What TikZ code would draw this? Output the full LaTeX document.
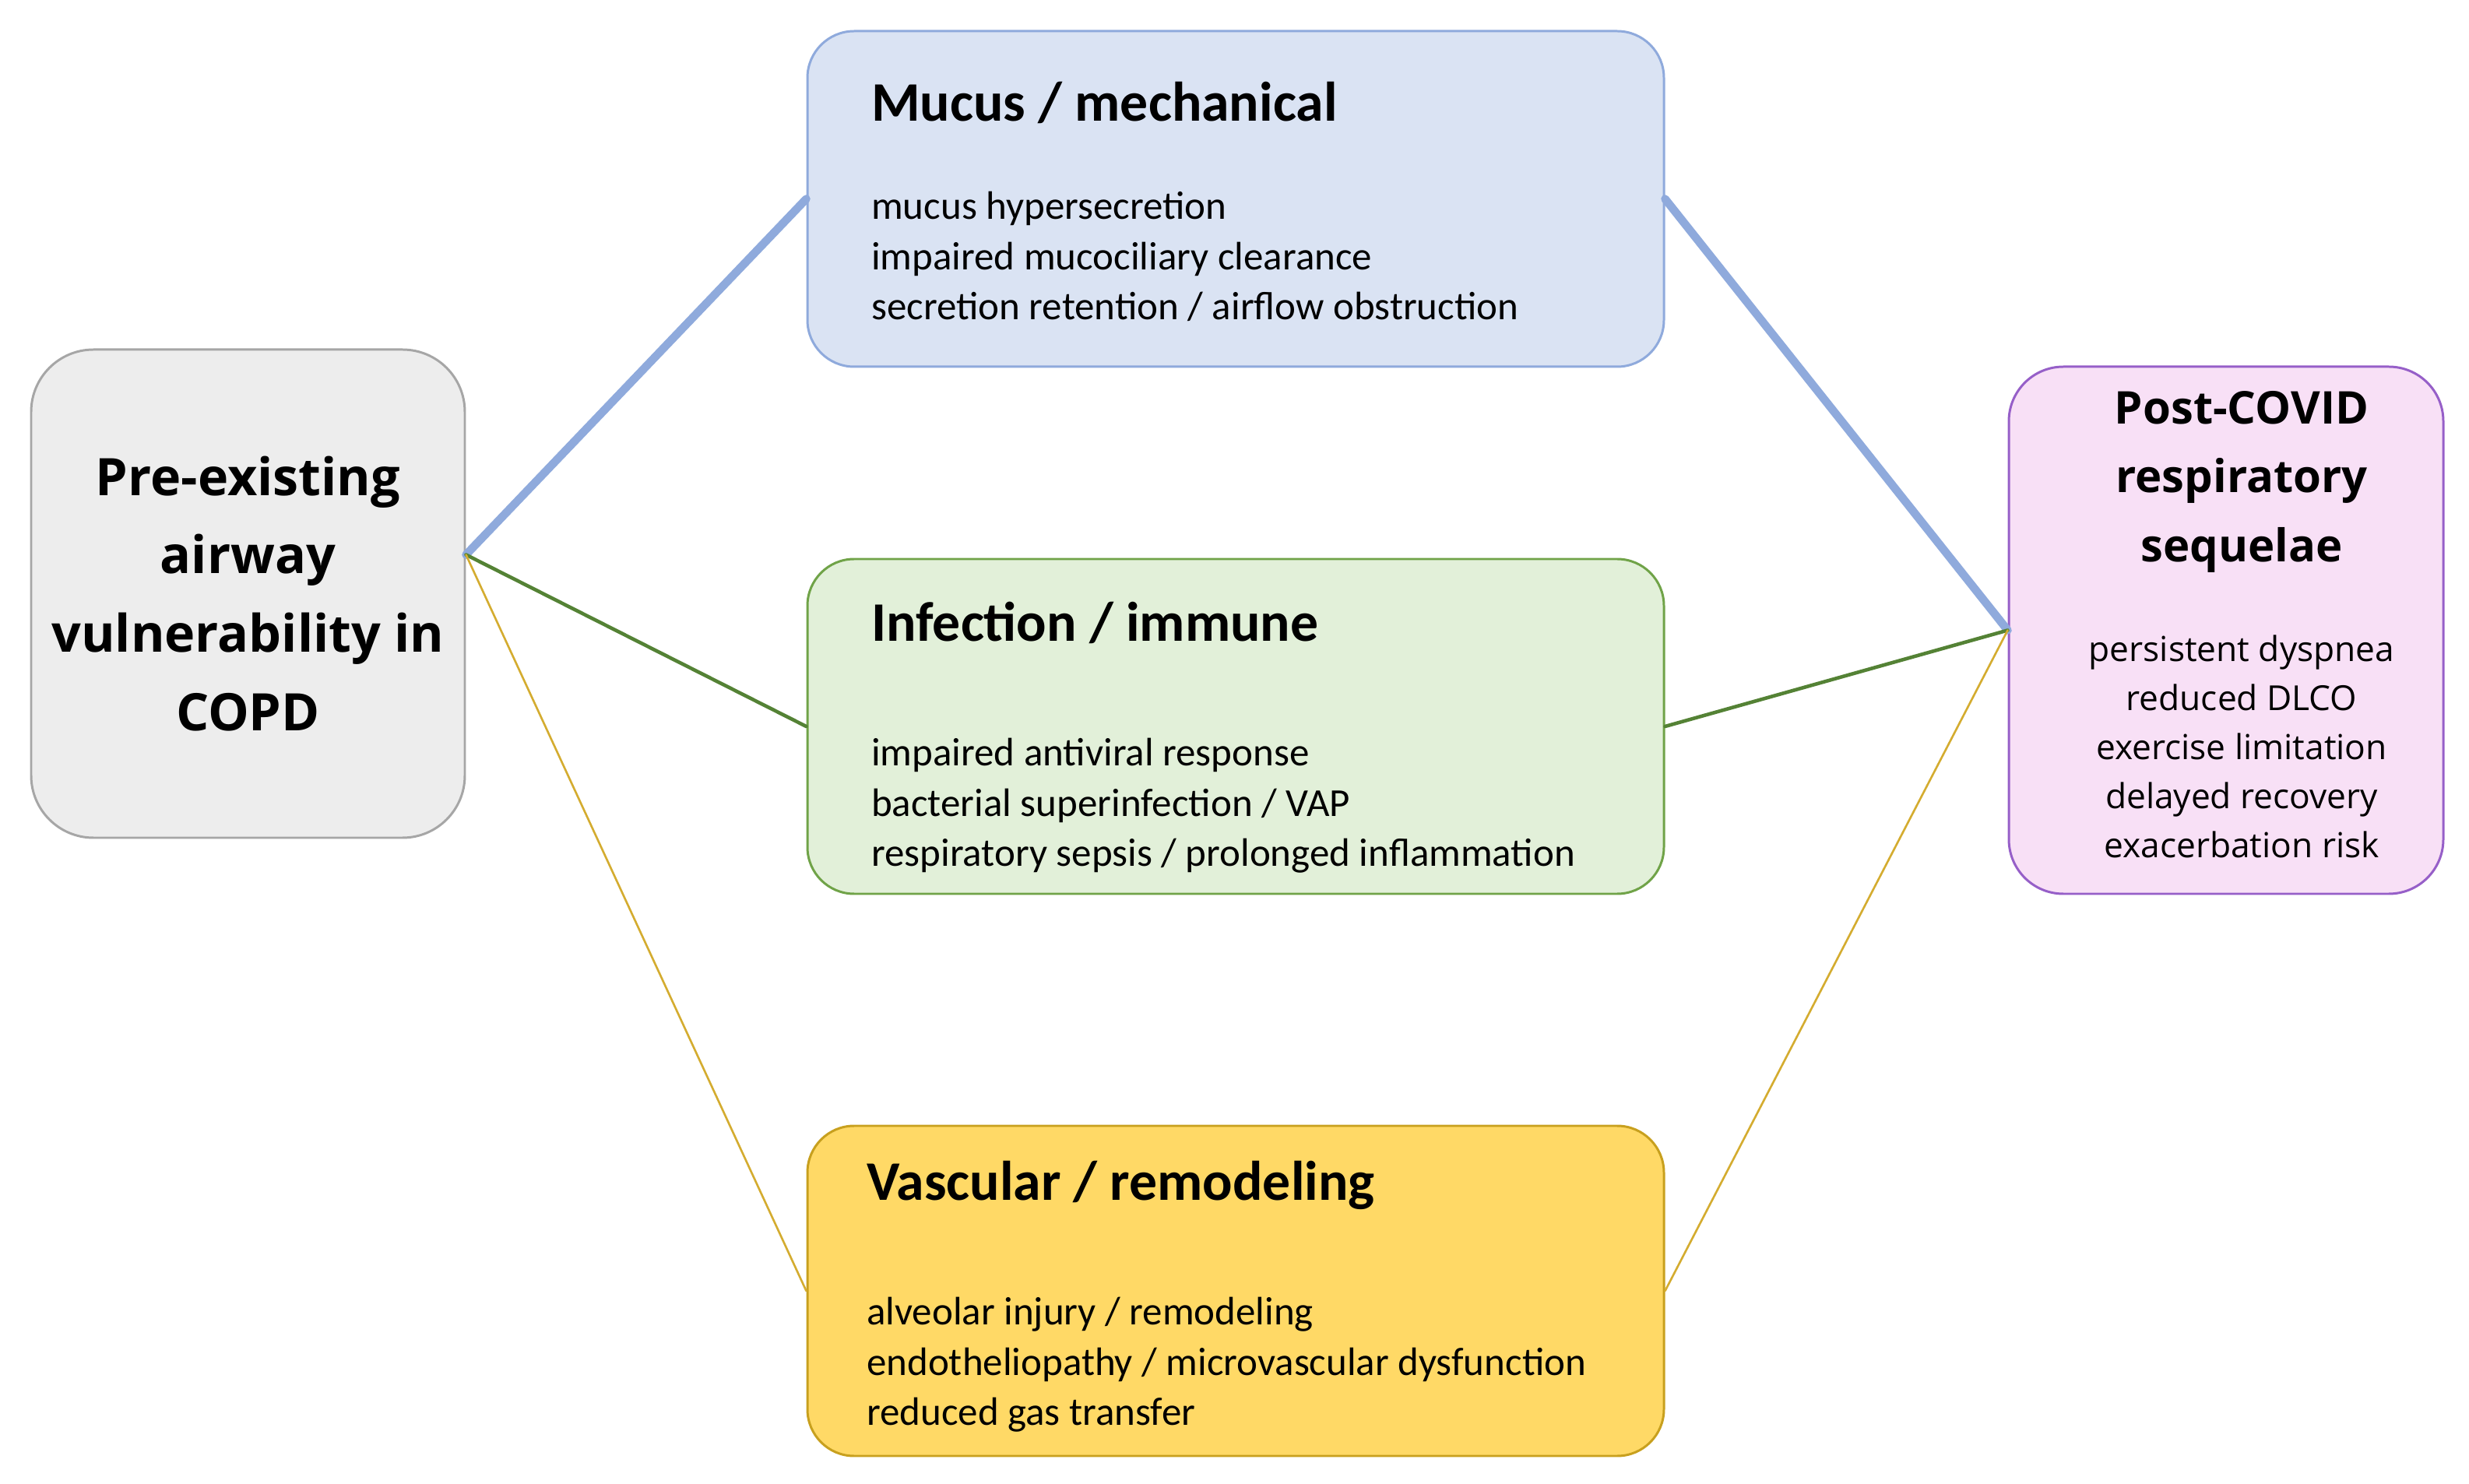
\documentclass[tikz,border=0pt]{standalone}
\usepackage{fontspec}
\setmainfont{Carlito}
\newfontfamily\headfont{Open Sans}
\usetikzlibrary{positioning,calc}
\definecolor{copdGray}{RGB}{237, 237, 237}
\definecolor{copdGrayLine}{RGB}{166, 166, 166}
\definecolor{copdLightBlue}{RGB}{218, 227, 243}
\definecolor{copdBlue}{RGB}{143, 170, 220}
\definecolor{copdLightGreen}{RGB}{226, 240, 217}
\definecolor{copdGreenLine}{RGB}{112, 163, 72}
\definecolor{copdGreen}{RGB}{84, 130, 53}
\definecolor{copdYellow}{RGB}{255, 217, 102}
\definecolor{copdGold}{RGB}{200, 160, 30}
\definecolor{copdGoldLink}{RGB}{212, 172, 48}
\definecolor{copdLightPink}{RGB}{248, 224, 246}
\definecolor{copdPurple}{RGB}{150, 95, 200}

\begin{document}
\begin{tikzpicture}[
  panel/.style={
    draw,
    line width=0.85pt,
    rounded corners=0.6cm,
    minimum width=11cm,
    minimum height=4.3cm
  },
  paneltitle/.style={anchor=base west,inner sep=0pt,font=\fontsize{20.4}{24}\selectfont\bfseries},
  panelbody/.style={anchor=base west,inner sep=0pt,align=left,font=\fontsize{14.5}{18.3}\selectfont},
  link/.style={line cap=round}
]
  \useasboundingbox (0,0) rectangle (31.71,-19.06);

  % start and end boxes
  \node[draw=copdGrayLine,fill=copdGray,line width=0.85pt,rounded corners=0.8cm,
        minimum width=5.57cm,minimum height=6.27cm,align=center,
        font=\headfont\bfseries\fontsize{18.9}{28.7}\selectfont] (pre) at (3.185,-7.625)
        {Pre-existing\\airway\\vulnerability in\\COPD};
  \node[draw=copdPurple,fill=copdLightPink,line width=0.85pt,rounded corners=0.7cm,
        minimum width=5.58cm,minimum height=6.77cm] (sequelae) at (28.59,-8.095) {};
  % base = baseline of the last line
  \node[anchor=base,inner sep=0pt,align=center,font=\headfont\bfseries\fontsize{16.5}{25.2}\selectfont]
        (seqtitle) at ($(sequelae.north)+(0.2,-2.52)$) {Post-COVID\\respiratory\\sequelae};
  \node[anchor=base,inner sep=0pt,align=center,font=\headfont\fontsize{12.6}{17.9}\selectfont]
        (seqbody) at ($(sequelae.north)+(0.2,-6.32)$)
        {persistent dyspnea\\reduced DLCO\\exercise limitation\\delayed recovery\\exacerbation risk};

  % mechanism panels
  \node[panel,draw=copdBlue,fill=copdLightBlue,minimum height=4.31cm] (mucus) at (15.87,-2.555) {};
  \node[paneltitle] (mucustitle) at ($(mucus.north west)+(0.83,-1.17)$) {Mucus / mechanical};
  \node[panelbody] (mucusbody) at ($(mucus.north west)+(0.83,-3.72)$)
    {mucus hypersecretion\\impaired mucociliary clearance\\secretion retention / airflow obstruction};

  \node[panel,draw=copdGreenLine,fill=copdLightGreen] (infection) at (15.87,-9.33) {};
  \node[paneltitle] (infectiontitle) at ($(infection.north west)+(0.83,-1.07)$) {Infection / immune};
  \node[panelbody] (infectionbody) at ($(infection.north west)+(0.83,-3.96)$)
    {impaired antiviral response\\bacterial superinfection / VAP\\respiratory sepsis / prolonged inflammation};

  \node[panel,draw=copdGold,fill=copdYellow,minimum height=4.24cm] (vascular) at (15.87,-16.58) {};
  \node[paneltitle] (vasculartitle) at ($(vascular.north west)+(0.77,-0.97)$) {Vascular / remodeling};
  \node[panelbody] (vascularbody) at ($(vascular.north west)+(0.77,-3.86)$)
    {alveolar injury / remodeling\\endotheliopathy / microvascular dysfunction\\reduced gas transfer};

  % connectors
  \coordinate (preout) at ($(pre.east)+(0,0.5)$);
  \draw[link,copdBlue,line width=3pt] (preout) -- (mucus.west);
  \draw[link,copdGreen,line width=1.3pt] (preout) -- (infection.west);
  \draw[link,copdGoldLink,line width=0.75pt] (preout) -- (vascular.west);
  \draw[link,copdBlue,line width=3pt] (mucus.east) -- (sequelae.west);
  \draw[link,copdGreen,line width=1.3pt] (infection.east) -- (sequelae.west);
  \draw[link,copdGoldLink,line width=0.75pt] (vascular.east) -- (sequelae.west);
\end{tikzpicture}
\end{document}
